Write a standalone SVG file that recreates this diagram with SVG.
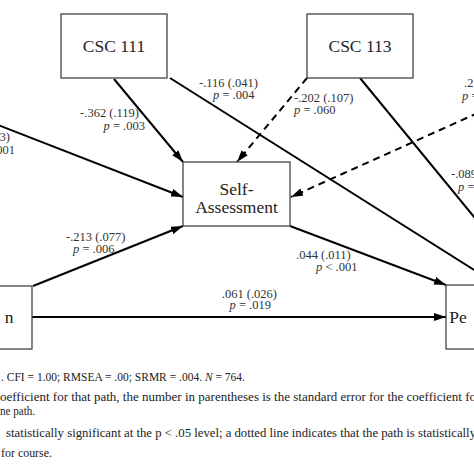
<svg xmlns="http://www.w3.org/2000/svg" width="474" height="474" viewBox="0 0 474 474">
<defs>
<marker id="ah" viewBox="0 0 12 8" refX="12" refY="4" markerWidth="12" markerHeight="8" markerUnits="userSpaceOnUse" orient="auto">
<path d="M0,0 L12,4 L0,8 Z" fill="#000"/>
</marker>
<style>
.box{fill:#fff;stroke:#444;stroke-width:1.3}
text{font-family:'Liberation Serif','DejaVu Serif',serif}
.nt{font-size:17.5px;fill:#222;text-anchor:middle}
.lb{font-size:12.5px;fill:#333}
.fn{font-size:12.5px;fill:#222}
.c{fill:none;stroke:#000;stroke-width:2;marker-end:url(#ah)}
.d{stroke-dasharray:7,5}
</style>
</defs>
<rect width="474" height="474" fill="#fff"/>
<g id="connectors">
<line class="c" x1="114" y1="79" x2="183" y2="162"/>
<line class="c" x1="170" y1="78" x2="490" y2="280"/>
<line class="c d" x1="307" y1="78" x2="237" y2="162"/>
<line class="c" x1="360" y1="78" x2="530" y2="285"/>
<line class="c d" x1="500" y1="103" x2="291" y2="197"/>
<line class="c" x1="-20" y1="118" x2="183" y2="197"/>
<line class="c" x1="33" y1="286" x2="183" y2="226"/>
<line class="c" x1="32" y1="317" x2="446" y2="317"/>
<line class="c" x1="290" y1="226" x2="446" y2="285"/>
</g>
<g id="labels">
<text class="lb" x="139" y="117" text-anchor="end">-.362 (.119)</text>
<text class="lb" x="145" y="130" text-anchor="end"><tspan font-style="italic">p</tspan> = .003</text>
<text class="lb" x="199" y="87">-.116 (.041)</text>
<text class="lb" x="213" y="99"><tspan font-style="italic">p</tspan> = .004</text>
<text class="lb" x="294" y="102">-.202 (.107)</text>
<text class="lb" x="294" y="114"><tspan font-style="italic">p</tspan> = .060</text>
<text class="lb" x="464" y="87">.2</text>
<text class="lb" x="462" y="100"><tspan font-style="italic">p</tspan> =</text>
<text class="lb" x="451" y="178">-.089</text>
<text class="lb" x="458" y="191"><tspan font-style="italic">p</tspan> =</text>
<text class="lb" x="10" y="141" text-anchor="end">3)</text>
<text class="lb" x="15" y="154" text-anchor="end">.001</text>
<text class="lb" x="66" y="241">-.213 (.077)</text>
<text class="lb" x="73" y="253"><tspan font-style="italic">p</tspan> = .006</text>
<text class="lb" x="296" y="259">.044 (.011)</text>
<text class="lb" x="316" y="271"><tspan font-style="italic">p</tspan> &lt; .001</text>
<text class="lb" x="277" y="298" text-anchor="end">.061 (.026)</text>
<text class="lb" x="271" y="309" text-anchor="end"><tspan font-style="italic">p</tspan> = .019</text>
</g>
<g id="csc111">
<rect class="box" x="61" y="14" width="106" height="64"/>
<text class="nt" x="114" y="52">CSC 111</text>
</g>
<g id="csc113">
<rect class="box" x="307" y="14" width="106" height="64"/>
<text class="nt" x="360" y="52">CSC 113</text>
</g>
<g id="self-assessment">
<rect class="box" x="183" y="162" width="107" height="64"/>
<text class="nt" x="236.5" y="195">Self-</text>
<text class="nt" x="236.5" y="213">Assessment</text>
</g>
<g id="left-node">
<rect class="box" x="-80" y="286" width="112" height="63"/>
<text class="nt" x="9" y="323" text-anchor="end">n</text>
</g>
<g id="pe-node">
<rect class="box" x="446" y="285" width="114" height="64"/>
<text class="nt" x="458" y="323" text-anchor="start">Pe</text>
</g>
<g id="footnote">
<text class="fn" x="1" y="381" textLength="244" lengthAdjust="spacingAndGlyphs">. CFI = 1.00; RMSEA = .00; SRMR = .004. <tspan font-style="italic">N</tspan> = 764.</text>
<text class="fn" x="0" y="401" textLength="476" lengthAdjust="spacingAndGlyphs">oefficient for that path, the number in parentheses is the standard error for the coefficient fo</text>
<text class="fn" x="0" y="415" textLength="35" lengthAdjust="spacingAndGlyphs">ne path.</text>
<text class="fn" x="6" y="437" textLength="470" lengthAdjust="spacingAndGlyphs">statistically significant at the p &lt; .05 level; a dotted line indicates that the path is statistically</text>
<text class="fn" x="1" y="457" textLength="51" lengthAdjust="spacingAndGlyphs">for course.</text>
</g>
</svg>
